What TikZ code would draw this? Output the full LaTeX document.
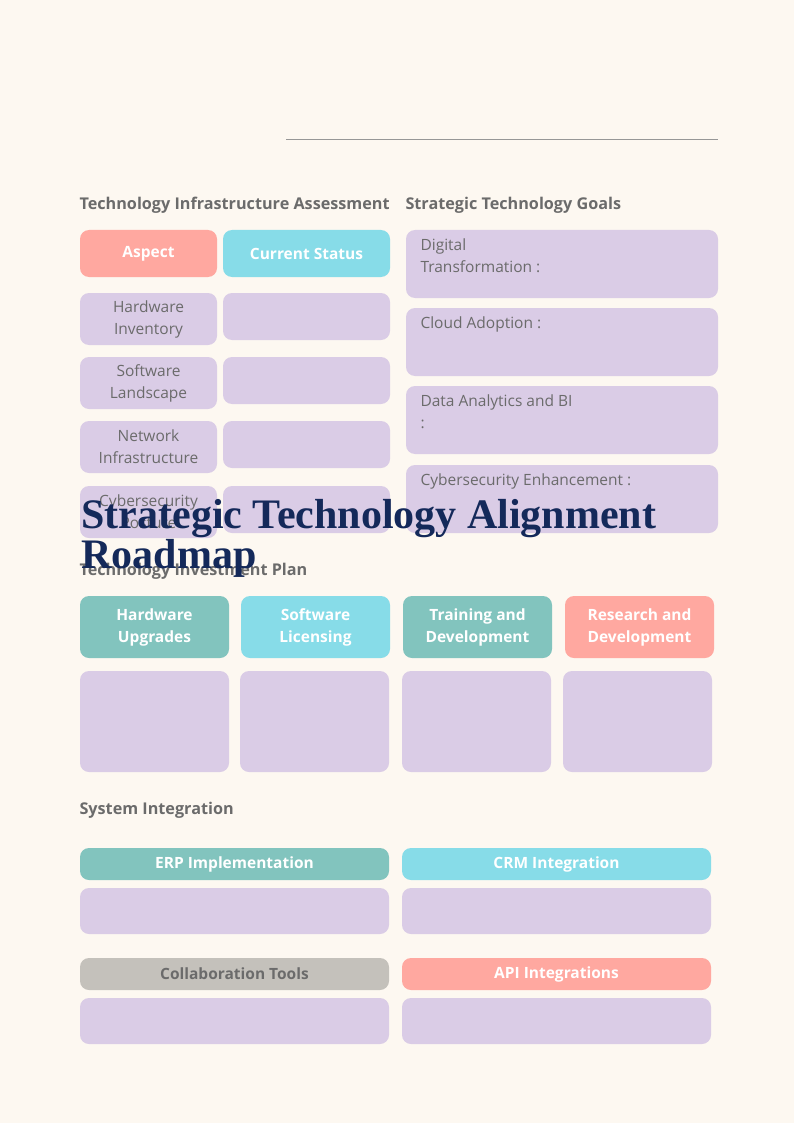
\documentclass[tikz,border=0pt]{standalone}
\usepackage{fontspec}
\setmainfont{Open Sans}
\newfontfamily\titlefont{Liberation Serif}
\definecolor{bg}{HTML}{FDF8F1}
\definecolor{lav}{HTML}{DACCE6}
\definecolor{sal}{HTML}{FFA8A0}
\definecolor{cya}{HTML}{87DCE8}
\definecolor{tea}{HTML}{82C4BE}
\definecolor{gry}{HTML}{C4C1BB}
\definecolor{txt}{HTML}{6B6B6B}
\definecolor{navy}{HTML}{14295A}
\begin{document}
\begin{tikzpicture}[x=1pt,y=-1pt,
  cell/.style={fill=lav,rounded corners=9pt},
  hd/.style={rounded corners=9pt,text=white,font=\bfseries\fontsize{15.5}{22}\selectfont,align=center},
  sec/.style={anchor=west,text=txt,font=\bfseries\fontsize{16.2}{19}\selectfont},
  ct/.style={text=txt,font=\fontsize{15.5}{22}\selectfont,align=center},
  lt/.style={text=txt,font=\fontsize{15.5}{22}\selectfont,align=left,anchor=north west}]
\fill[bg] (0,0) rectangle (794,1123);
\useasboundingbox (0,0) rectangle (794,1123);
\draw[txt!70,line width=0.6pt] (286,139) coordinate (l1) -- (718,139) coordinate (l2);
\node[sec] (s1) at (76,205) {Technology Infrastructure Assessment};
\node[sec] (s2) at (402,205) {Strategic Technology Goals};
\fill[sal,rounded corners=9pt] (80,230) rectangle (217,277);
\node[hd] (a) at (148.5,253.5) {Aspect};
\fill[cya,rounded corners=9pt] (223,230) rectangle (390,277);
\node[hd] (cs) at (306.5,253.5) {Current Status};
\foreach \y/\t [count=\i] in {293/{Hardware\\Inventory},357/{Software\\Landscape},421/{Network\\Infrastructure},486/{Cybersecurity\\Posture}}{
  \fill[cell] (80,\y) rectangle (217,\y+52);
  \node[ct] (r\i) at (148.5,\y+26) {\t};
  \fill[cell] (223,\y) rectangle (390,\y+47);
}
\foreach \y/\t [count=\i] in {230/{Digital\\Transformation :},308/{Cloud Adoption :},386/{Data Analytics and BI\\:},465/{Cybersecurity Enhancement :}}{
  \fill[cell] (406,\y) rectangle (718,\y+68);
  \node[lt] (g\i) at (417,\y+5) {\t};
}
\node[sec] (s3) at (76,571) {Technology Investment Plan};
\node[anchor=north west,text=navy,font=\titlefont\bfseries\fontsize{42}{40}\selectfont,align=left] (title) at (78,496) {Strategic Technology Alignment\\Roadmap};
\foreach \x/\c/\t [count=\i] in {80/tea/{Hardware\\Upgrades},241/cya/{Software\\Licensing},403/tea/{Training and\\Development},565/sal/{Research and\\Development}}{
  \fill[\c,rounded corners=9pt] (\x,596) rectangle (\x+149,658);
  \node[hd] (i\i) at (\x+74.5,627) {\t};
}
\foreach \x in {80,240,402,563}{\fill[cell] (\x,671) rectangle (\x+149,772);}
\node[sec] (s4) at (76,810) {System Integration};
\foreach \x/\y/\c/\t/\tc [count=\i] in {80/848/tea/ERP Implementation/white,402/848/cya/CRM Integration/white,80/958/gry/Collaboration Tools/txt,402/958/sal/API Integrations/white}{
  \fill[\c,rounded corners=9pt] (\x,\y) rectangle (\x+309,\y+32);
  \node[hd,text=\tc] (y\i) at (\x+154.5,\y+16) {\t};
  \fill[cell] (\x,\y+40) rectangle (\x+309,\y+86);
}
\end{tikzpicture}
\end{document}
